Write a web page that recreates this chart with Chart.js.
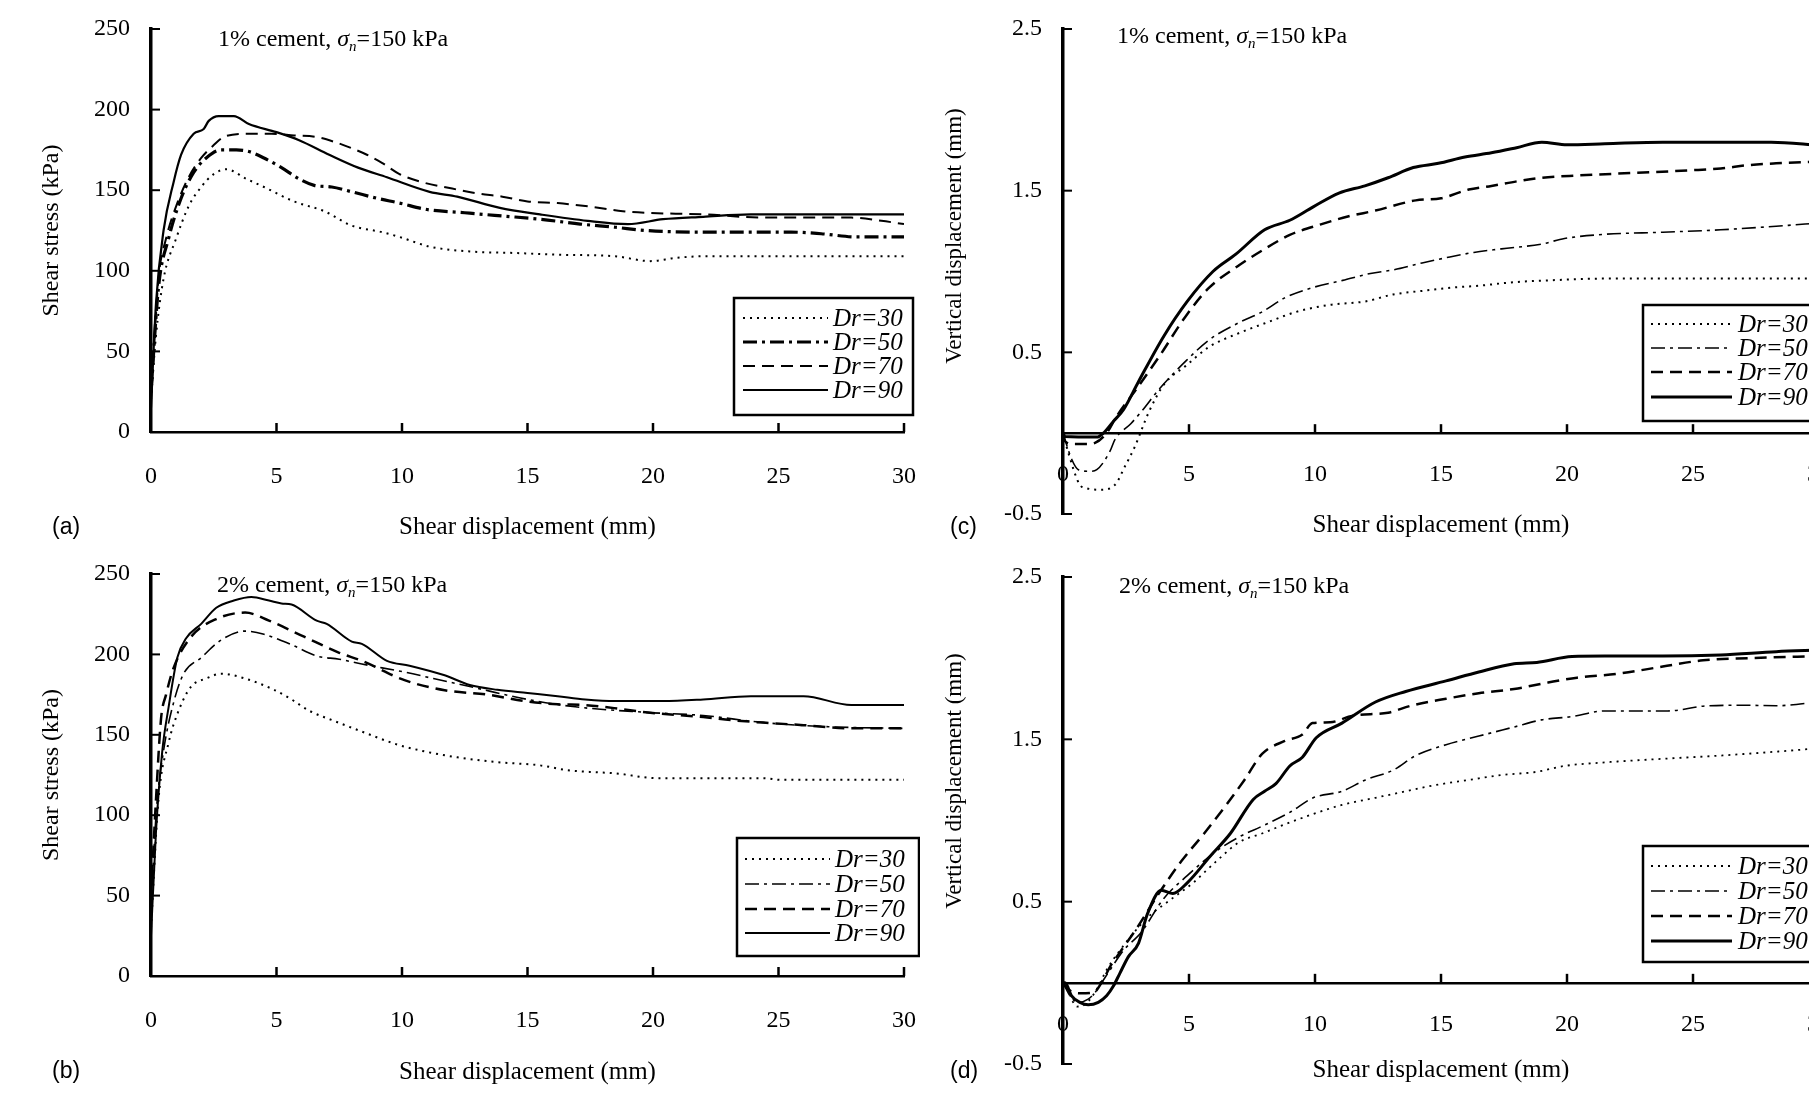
<!DOCTYPE html>
<html><head><meta charset="utf-8">
<script src="https://cdn.jsdelivr.net/npm/chart.js@4.4.1/dist/chart.umd.min.js"></script>
<style>
html,body{margin:0;padding:0;background:#fff;overflow:hidden;}
#wrap{position:relative;width:1809px;height:1105px;overflow:hidden;background:#fff;}
canvas{position:absolute;}
</style></head><body>
<div id="wrap">
<canvas id="cA" width="920" height="545" style="left:0px;top:0px;width:920px;height:545px"></canvas>
<canvas id="cB" width="920" height="560" style="left:0px;top:545px;width:920px;height:560px"></canvas>
<canvas id="cC" width="920" height="545" style="left:920px;top:0px;width:920px;height:545px"></canvas>
<canvas id="cD" width="920" height="560" style="left:920px;top:545px;width:920px;height:560px"></canvas>
</div>
<script>
// ---------- data ----------
const seriesLabels = ['Dr=30', 'Dr=50', 'Dr=70', 'Dr=90'];
const shearTicks = [0, 5, 10, 15, 20, 25, 30];
const stressTicks = [0, 50, 100, 150, 200, 250];
const vdTicks = [-0.5, 0.5, 1.5, 2.5];
const xTitle = 'Shear displacement (mm)';
const yTitleStress = 'Shear stress (kPa)';
const yTitleVD = 'Vertical displacement (mm)';
const annot1 = ['1% cement, ', 'σ', 'n', '=150 kPa'];
const annot2 = ['2% cement, ', 'σ', 'n', '=150 kPa'];

// (a) 1% cement, shear stress
const a30x = [0, 0.2, 0.5, 1.0, 1.5, 2.0, 2.5, 3.0, 3.8, 4.5, 5.7, 6.9, 8.0, 9.2, 9.9, 11.1, 12.7, 14.6, 16.2, 18.5, 19.9, 20.9, 22.0, 25, 30];
const a30y = [20, 60, 95, 120, 140, 152, 160, 163, 157, 152, 143, 137, 128, 124, 121, 115, 112, 111, 110, 109, 106, 108, 109, 109, 109];
const a50x = [0, 0.3, 0.7, 1.2, 1.7, 2.2, 2.8, 3.4, 3.9, 4.5, 5.2, 5.9, 6.5, 7.2, 8.0, 9.0, 9.9, 11.0, 12.5, 14.0, 15.5, 17.1, 18.5, 19.7, 22.0, 25.5, 26.7, 28.1, 30];
const a50y = [25, 90, 120, 145, 161, 170, 175, 175, 174, 170, 164, 157, 153, 152, 149, 145, 142, 138, 136, 134, 132, 129, 127, 125, 124, 124, 123, 121, 121];
const a70x = [0, 0.3, 0.6, 1.0, 1.5, 2.0, 2.5, 2.9, 3.8, 4.8, 5.7, 6.6, 7.3, 8.0, 8.6, 9.2, 9.9, 10.8, 12.0, 13.0, 14.0, 15.0, 16.2, 17.4, 18.8, 19.7, 22.0, 24.4, 27.9, 29.1, 30];
const a70y = [20, 95, 120, 140, 158, 170, 178, 183, 185, 185, 184, 183, 180, 176, 172, 167, 160, 155, 151, 148, 146, 143, 142, 140, 137, 136, 135, 133, 133, 131, 129];
const a90x = [0, 0.2, 0.5, 0.9, 1.2, 1.7, 2.1, 2.3, 2.7, 3.3, 3.9, 5.0, 5.9, 7.1, 8.25, 9.4, 11.1, 12.2, 13.9, 15.5, 17.4, 19.0, 20.4, 22.0, 23.9, 30];
const a90y = [15, 80, 125, 155, 172, 185, 188, 193, 196, 196, 191, 186, 181, 172, 164, 158, 149, 146, 139, 135, 131, 129, 132, 133.5, 135, 135];

// (b) 2% cement, shear stress
const b30x = [0, 0.3, 0.7, 1.1, 1.6, 2.2, 2.8, 3.75, 4.9, 5.6, 6.3, 7.3, 8.4, 9.8, 10.8, 12.2, 13.8, 15.5, 16.6, 18.5, 20.2, 24.4, 25.1, 30];
const b30y = [30, 110, 145, 165, 180, 185, 188, 185, 178, 172, 165, 158.6, 152, 144, 140, 136, 133, 131, 128, 126, 123, 123, 122, 122];
const b50x = [0, 0.2, 0.5, 0.9, 1.3, 2.0, 2.8, 3.75, 4.5, 5.6, 6.6, 7.5, 8.4, 10.1, 11.25, 12.7, 15.0, 16.9, 19.7, 22.0, 24.4, 27, 30];
const b50y = [40, 100, 140, 170, 188, 198, 209, 214.5, 212.5, 206, 199, 197, 194, 189, 185, 180, 172, 167.4, 164, 162, 157.6, 155, 154];
const b70x = [0, 0.2, 0.4, 0.6, 0.9, 1.6, 2.6, 3.75, 4.7, 6.1, 7.5, 8.4, 10.1, 11.7, 13.4, 15.0, 16.2, 17.3, 18.75, 19.7, 22.0, 23.2, 24.4, 26.0, 27.9, 30];
const b70y = [50, 110, 160, 175, 191.6, 211, 222, 226, 221, 211, 201, 196, 184, 177.7, 175, 170.7, 169, 168.5, 166, 164, 161, 159, 157.6, 156, 154, 154];
const b90x = [0, 0.2, 0.45, 0.7, 1.05, 1.4, 2.0, 2.6, 3.3, 4.0, 4.7, 5.2, 5.6, 6.6, 7.0, 8.0, 8.4, 9.4, 10.3, 11.7, 12.7, 13.8, 15.0, 16.2, 17.3, 18.5, 20.4, 22.0, 23.9, 26.0, 27.9, 30];
const b90y = [25, 90, 140, 167, 198, 210, 219, 229, 233.5, 235.7, 233.5, 231.7, 231, 221, 219, 208, 206.6, 196, 193, 187, 181, 178, 176, 174, 172, 171, 171, 172, 174, 174, 168.5, 168.5];

// (c) 1% cement, vertical displacement
const c30x = [0, 0.21, 0.67, 0.92, 1.47, 2.06, 2.46, 2.86, 3.39, 4.0, 4.9, 5.8, 7.0, 8.1, 9.25, 10.6, 12.0, 13.1, 14.25, 15.4, 16.5, 17.9, 19.25, 21.5, 24.9, 30];
const c30y = [0, -0.12, -0.32, -0.34, -0.35, -0.32, -0.205, -0.08, 0.125, 0.3, 0.42, 0.534, 0.62, 0.685, 0.75, 0.794, 0.815, 0.858, 0.88, 0.90, 0.912, 0.934, 0.945, 0.956, 0.956, 0.956];
const c50x = [0, 0.34, 0.61, 1.07, 1.34, 1.87, 2.06, 2.7, 3.17, 3.8, 4.9, 5.8, 7.0, 7.9, 8.8, 9.9, 11.1, 12.2, 13.1, 14.25, 15.2, 16.3, 17.4, 19.0, 19.9, 21.5, 23.8, 26.1, 28.3, 30];
const c50y = [0, -0.16, -0.226, -0.236, -0.226, -0.11, -0.04, 0.06, 0.145, 0.27, 0.45, 0.577, 0.685, 0.75, 0.837, 0.90, 0.945, 0.988, 1.01, 1.053, 1.085, 1.118, 1.14, 1.17, 1.204, 1.23, 1.243, 1.258, 1.28, 1.30];
const c70x = [0, 0.08, 0.4, 0.92, 1.27, 1.73, 2.11, 2.9, 3.8, 4.9, 5.8, 7.0, 7.9, 9.0, 10.2, 11.3, 12.4, 14.0, 15.0, 16.1, 17.0, 18.1, 19.0, 20.4, 22.7, 24.9, 26.1, 27.2, 28.3, 30];
const c70y = [0, -0.05, -0.067, -0.067, -0.06, 0.0, 0.10, 0.27, 0.47, 0.73, 0.90, 1.04, 1.13, 1.226, 1.29, 1.34, 1.377, 1.44, 1.453, 1.507, 1.529, 1.56, 1.58, 1.594, 1.61, 1.626, 1.637, 1.658, 1.669, 1.68];
const c90x = [0, 0.08, 1.34, 1.6, 2.0, 2.4, 3.0, 4.0, 4.93, 5.95, 6.86, 8.0, 9.0, 9.93, 10.95, 11.98, 12.9, 13.9, 14.9, 15.95, 17.0, 18.0, 19.0, 20.0, 21.5, 23.8, 28.1, 30];
const c90y = [0, -0.02, -0.024, 0, 0.073, 0.145, 0.32, 0.60, 0.815, 1.0, 1.107, 1.258, 1.317, 1.40, 1.485, 1.53, 1.58, 1.643, 1.669, 1.708, 1.734, 1.766, 1.8, 1.784, 1.79, 1.8, 1.8, 1.78];

// (d) 2% cement, vertical displacement
const d30x = [0, 0.15, 0.34, 0.55, 0.9, 1.34, 1.73, 2.26, 3.34, 4.25, 5.16, 6.07, 7.0, 7.9, 8.8, 9.93, 11.07, 12.4, 13.6, 14.7, 16.1, 17.4, 18.8, 19.9, 21.5, 23.8, 26.1, 28.3, 30];
const d30y = [0, -0.02, -0.1, -0.146, -0.13, -0.04, 0.08, 0.2, 0.40, 0.51, 0.616, 0.747, 0.867, 0.92, 0.976, 1.04, 1.096, 1.14, 1.18, 1.216, 1.25, 1.28, 1.30, 1.336, 1.358, 1.38, 1.40, 1.424, 1.445];
const d50x = [0, 0.28, 0.6, 1.0, 1.27, 1.53, 1.87, 2.4, 3.1, 4.0, 4.93, 6.07, 7.0, 7.9, 9.0, 9.93, 11.07, 12.0, 13.1, 14.0, 15.2, 16.5, 17.9, 19.0, 20.2, 21.5, 24.0, 25.6, 27.0, 28.3, 30];
const d50y = [0, -0.08, -0.12, -0.1, -0.06, 0, 0.08, 0.2, 0.31, 0.52, 0.66, 0.81, 0.90, 0.965, 1.05, 1.14, 1.18, 1.25, 1.31, 1.40, 1.467, 1.52, 1.576, 1.62, 1.64, 1.675, 1.675, 1.707, 1.71, 1.707, 1.73];
const d70x = [0, 0.2, 0.67, 1.2, 1.6, 1.87, 2.13, 2.9, 3.8, 4.7, 5.6, 6.5, 7.2, 7.9, 8.8, 9.5, 9.9, 10.6, 11.5, 12.9, 13.8, 15.2, 16.5, 17.9, 19.25, 20.4, 22.0, 23.8, 25.4, 27.2, 30];
const d70y = [0, -0.04, -0.064, -0.06, 0.02, 0.10, 0.16, 0.33, 0.55, 0.75, 0.92, 1.10, 1.25, 1.41, 1.49, 1.53, 1.60, 1.605, 1.646, 1.664, 1.707, 1.75, 1.784, 1.81, 1.85, 1.88, 1.904, 1.948, 1.987, 2.0, 2.013];
const d90x = [0, 0.08, 0.34, 0.67, 1.0, 1.4, 1.73, 2.0, 2.26, 2.59, 3.0, 3.34, 3.9, 4.36, 4.93, 5.84, 6.64, 7.55, 8.0, 8.45, 9.0, 9.5, 10.05, 11.07, 12.4, 13.6, 15.2, 16.5, 17.9, 18.8, 20.2, 21.5, 23.8, 26.1, 28.3, 30];
const d90y = [0, 0, -0.08, -0.12, -0.135, -0.12, -0.08, -0.02, 0.06, 0.16, 0.245, 0.42, 0.57, 0.55, 0.616, 0.78, 0.92, 1.13, 1.18, 1.227, 1.336, 1.39, 1.51, 1.6, 1.73, 1.795, 1.86, 1.915, 1.965, 1.974, 2.01, 2.013, 2.013, 2.02, 2.04, 2.05];

// ---------- drawing ----------
const SERIF = '"Liberation Serif", "Times New Roman", serif';
const SANS = '"Liberation Sans", Arial, sans-serif';
const dashes = [[2, 5], [14, 5, 3, 5], [12, 7], []];
const pts = (xs, ys) => xs.map((x, i) => ({x: x, y: ys[i]}));

const panelDecor = {
  id: 'panelDecor',
  afterDraw(chart, args, o) {
    const ctx = chart.ctx;
    const xs = chart.scales.x, ys = chart.scales.y;
    const ca = chart.chartArea;
    ctx.save();
    ctx.strokeStyle = '#000';
    ctx.fillStyle = '#000';
    ctx.setLineDash([]);
    // inward tick marks
    const axisY = o.zeroAxis ? ys.getPixelForValue(0) : ca.bottom;
    ctx.lineWidth = 2.5;
    xs.ticks.forEach(t => {
      if (t.value === xs.min) return;
      const px = xs.getPixelForValue(t.value);
      ctx.beginPath(); ctx.moveTo(px, axisY); ctx.lineTo(px, axisY - 9); ctx.stroke();
    });
    ctx.lineWidth = 2;
    ys.ticks.forEach(t => {
      const py = ys.getPixelForValue(t.value);
      ctx.beginPath(); ctx.moveTo(ca.left, py); ctx.lineTo(ca.left + 9, py); ctx.stroke();
    });
    // legend box
    const L = o.legend;
    ctx.fillStyle = '#fff';
    ctx.fillRect(L.box[0], L.box[1], L.box[2] - L.box[0], L.box[3] - L.box[1]);
    ctx.lineWidth = 2.5;
    ctx.strokeRect(L.box[0], L.box[1], L.box[2] - L.box[0], L.box[3] - L.box[1]);
    ctx.fillStyle = '#000';
    chart.data.datasets.forEach((ds, i) => {
      const y = L.rows[i];
      ctx.setLineDash(ds.borderDash || []);
      ctx.lineWidth = ds.borderWidth;
      ctx.beginPath(); ctx.moveTo(L.lx[0], y); ctx.lineTo(L.lx[1], y); ctx.stroke();
      ctx.setLineDash([]);
      ctx.font = 'italic 25px ' + SERIF;
      ctx.textAlign = 'left'; ctx.textBaseline = 'middle';
      ctx.fillText(ds.label, L.tx, y + 1);
    });
    // annotation "x% cement, σn=150 kPa"
    const A = o.annot;
    let x = A.x;
    ctx.textAlign = 'left'; ctx.textBaseline = 'middle';
    const fonts = ['24px ' + SERIF, 'italic 24px ' + SERIF, 'italic 15px ' + SERIF, '24px ' + SERIF];
    const dy = [0, 0, 7, 0];
    A.parts.forEach((p, i) => {
      ctx.font = fonts[i];
      ctx.fillText(p, x, A.y + dy[i]);
      x += ctx.measureText(p).width;
    });
    // panel label
    ctx.font = '23px ' + SANS;
    ctx.fillText(o.label.text, o.label.x, o.label.y);
    // rotated y title (vertical displacement panels)
    if (o.yTitle) {
      ctx.save();
      ctx.translate(o.yTitle.x, o.yTitle.y);
      ctx.rotate(-Math.PI / 2);
      ctx.font = '23px ' + SERIF;
      ctx.textAlign = 'center'; ctx.textBaseline = 'middle';
      ctx.fillText(o.yTitle.text, 0, 0);
      ctx.restore();
    }
    ctx.restore();
  }
};

function makePanel(id, cfg) {
  const datasets = cfg.series.map((s, i) => ({
    label: seriesLabels[i],
    data: pts(s[0], s[1]),
    borderColor: '#000',
    backgroundColor: '#000',
    borderWidth: cfg.widths[i],
    borderDash: dashes[i],
    pointRadius: 0,
    fill: false,
    cubicInterpolationMode: 'monotone'
  }));
  const yIsVD = cfg.yKind === 'vd';
  return new Chart(document.getElementById(id).getContext('2d'), {
    type: 'line',
    data: {datasets: datasets},
    options: {
      responsive: false,
      animation: false,
      devicePixelRatio: 1,
      layout: {padding: cfg.padding},
      plugins: {legend: {display: false}, tooltip: {enabled: false}, panelDecor: cfg.decor},
      scales: {
        x: {
          type: 'linear', min: 0, max: 30,
          position: yIsVD ? {y: 0} : 'bottom',
          afterBuildTicks: s => { s.ticks = shearTicks.map(v => ({value: v})); },
          afterFit: s => { s.height = cfg.xHeight; },
          grid: {display: false, drawTicks: true, tickLength: cfg.xTickLen},
          border: {display: true, color: '#000', width: 2.5},
          ticks: {color: '#000', padding: 0, maxRotation: 0, autoSkip: false, font: {family: SERIF, size: 24}},
          title: {display: true, text: xTitle, color: '#000', font: {family: SERIF, size: 25}, padding: {top: 0, bottom: cfg.xTitlePad}}
        },
        y: {
          type: 'linear',
          min: yIsVD ? -0.5 : 0, max: yIsVD ? 2.5 : 250,
          position: 'left',
          afterBuildTicks: s => { s.ticks = (yIsVD ? vdTicks : stressTicks).map(v => ({value: v})); },
          afterFit: s => { s.width = cfg.yWidth; },
          grid: {display: false, drawTicks: true, tickLength: 21},
          border: {display: true, color: '#000', width: 3.5},
          ticks: {color: '#000', padding: 0, font: {family: SERIF, size: 24},
                  callback: v => yIsVD ? v.toFixed(1) : String(v)},
          title: {display: !yIsVD, text: yTitleStress, color: '#000', font: {family: SERIF, size: 24}, padding: {top: 37.6, bottom: 0}}
        }
      }
    },
    plugins: [panelDecor]
  });
}

makePanel('cA', {
  yKind: 'stress',
  series: [[a30x, a30y], [a50x, a50y], [a70x, a70y], [a90x, a90y]],
  widths: [2, 3.2, 2, 2.2],
  padding: {left: 0, top: 29, right: 16, bottom: 0},
  yWidth: 151, xHeight: 113, xTickLen: 30, xTitlePad: 3,
  decor: {
    zeroAxis: false,
    legend: {box: [734, 298, 913, 415], lx: [743, 828], tx: 833, rows: [318, 342, 366, 390]},
    annot: {x: 218, y: 40, parts: annot1},
    label: {text: '(a)', x: 52, y: 528}
  }
});
makePanel('cB', {
  yKind: 'stress',
  series: [[b30x, b30y], [b50x, b50y], [b70x, b70y], [b90x, b90y]],
  widths: [2, 1.6, 2.5, 2],
  padding: {left: 0, top: 29, right: 16, bottom: 0},
  yWidth: 151, xHeight: 129, xTickLen: 30, xTitlePad: 18,
  decor: {
    zeroAxis: false,
    legend: {box: [737, 293, 919, 411], lx: [745, 830], tx: 835, rows: [314, 339, 364, 388]},
    annot: {x: 217, y: 41, parts: annot2},
    label: {text: '(b)', x: 52, y: 527}
  }
});
makePanel('cC', {
  yKind: 'vd',
  series: [[c30x, c30y], [c50x, c50y], [c70x, c70y], [c90x, c90y]],
  widths: [2, 1.6, 2.5, 3],
  padding: {left: 0, top: 29, right: 21, bottom: 31},
  yWidth: 143, xHeight: 106.8, xTickLen: 27.5, xTitlePad: 0,
  decor: {
    zeroAxis: true,
    legend: {box: [723, 305, 935, 421], lx: [731, 812], tx: 818, rows: [324, 348, 372, 397]},
    annot: {x: 197, y: 37, parts: annot1},
    label: {text: '(c)', x: 30, y: 528},
    yTitle: {text: yTitleVD, x: 35, y: 236}
  }
});
makePanel('cD', {
  yKind: 'vd',
  series: [[d30x, d30y], [d50x, d50y], [d70x, d70y], [d90x, d90y]],
  widths: [1.8, 1.6, 2.5, 3],
  padding: {left: 0, top: 32, right: 21, bottom: 41},
  yWidth: 143, xHeight: 102.2, xTickLen: 27.5, xTitlePad: 0,
  decor: {
    zeroAxis: true,
    legend: {box: [723, 301, 935, 417], lx: [731, 812], tx: 818, rows: [321, 346, 371, 396]},
    annot: {x: 199, y: 42, parts: annot2},
    label: {text: '(d)', x: 30, y: 527},
    yTitle: {text: yTitleVD, x: 35, y: 236}
  }
});
</script>
</body></html>
